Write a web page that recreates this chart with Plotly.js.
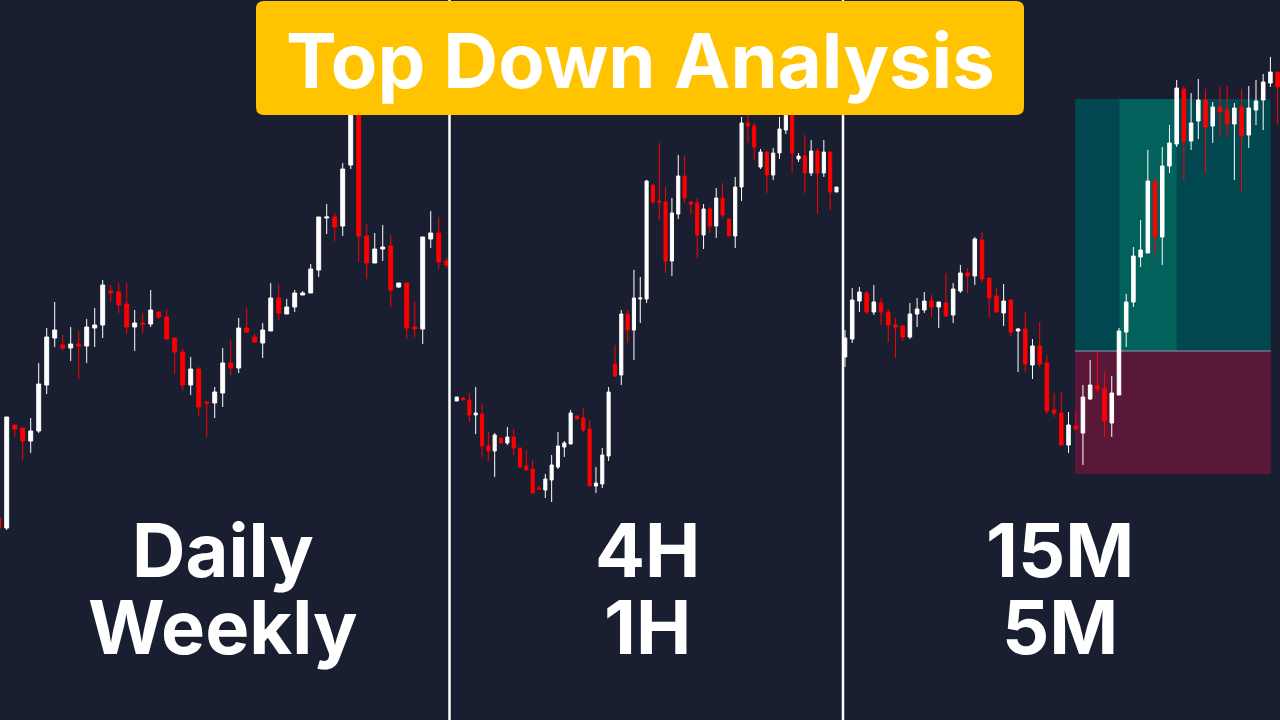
<!DOCTYPE html>
<html>
<head>
<meta charset="utf-8">
<script src="https://cdn.plot.ly/plotly-3.0.1.min.js"></script>
<style>html,body{margin:0;padding:0;background:#1a1e31;}#chart{width:1280px;height:720px;}</style>
</head>
<body>
<div id="chart"></div>
<script>
// ---------- Panel 1 : Daily / Weekly ----------
const p1Open  = [202,192,295,292,279,289,335,382,375,372,376,374,392,395,429,428,416,393,397,396,408,403,382,368,335,351,318,317,327,357,352,392,383,377,389,422,406,413,425,427,450,502,503,494,555,615,484,457,471,474,433,437,393,391,481,487,459];
const p1High  = [202,303,295,292,302,357,392,418,385,393,389,401,412,440,435,437,437,410,407,430,408,411,382,371,363,353,318,333,372,380,402,412,386,397,437,436,421,430,429,456,503,516,507,557,625,625,496,487,495,485,437,437,418,483,509,503,462];
const p1Low   = [192,190,283,260,267,287,326,373,370,359,341,357,373,382,418,407,386,369,387,393,401,381,346,330,325,304,283,302,313,345,347,387,378,362,389,400,406,408,425,427,443,486,479,484,551,458,441,457,459,413,432,381,383,376,472,451,452];
const p1Close = [192,303,291,279,289,336,383,390,372,376,374,393,395,435,427,415,393,397,396,410,403,381,368,335,351,313,317,328,357,352,392,388,378,390,422,407,413,427,427,451,503,503,493,551,615,484,457,471,473,430,437,392,391,483,487,458,455];

// ---------- Panel 2 : 4H / 1H ----------
const p2Open  = [319,322,320,305,306,274,269,282,277,283,272,254,251,232,230,240,253,273,276,304,302,291,234,236,264,356,345,406,390,421,421,535,519,518,459,506,544,518,517,485,511,494,522,501,484,533,597,594,553,568,545,567,590,608,561,564,547,569,547,568,528];
const p2High  = [323,323,327,333,316,288,287,282,293,291,272,270,260,234,246,265,288,279,310,304,312,300,253,272,333,375,410,410,450,443,540,535,577,533,522,565,564,518,522,516,513,532,537,501,543,603,607,597,571,568,572,603,612,612,567,585,580,572,580,568,533];
const p2Low   = [319,320,298,286,263,259,243,277,275,265,252,250,227,231,222,218,251,263,276,301,288,234,227,232,259,343,335,377,360,397,417,516,500,447,444,501,517,506,462,471,487,482,502,484,472,519,577,560,551,527,540,561,586,547,558,527,544,506,543,510,528];
const p2Close = [323,320,305,307,274,269,285,277,283,272,253,250,227,231,241,255,274,277,307,301,290,234,237,265,328,344,406,390,422,422,539,518,518,459,507,544,522,516,485,511,494,522,505,484,533,597,594,573,568,545,567,591,608,567,564,547,569,547,568,528,533];

// ---------- Panel 3 : 15M / 5M ----------
const p3Open  = [363,381,419,427,408,417,408,395,394,383,406,410,419,413,417,405,429,447,444,480,442,424,407,420,389,391,355,374,357,310,307,275,294,287,321,334,331,297,325,388,418,463,467,538,483,554,576,631,579,599,620,594,613,610,596,613,585,610,620,637,648];
const p3High  = [390,432,433,429,435,422,411,402,394,417,422,428,425,418,447,437,455,452,483,488,442,432,436,420,392,408,381,398,365,327,328,308,308,335,360,368,348,344,392,426,473,500,570,542,573,595,640,634,627,641,631,618,633,634,617,631,634,640,646,663,648];
const p3Low   = [353,377,408,406,405,395,378,362,379,381,393,407,403,392,403,397,427,427,435,438,402,407,394,384,348,348,341,353,306,303,275,267,291,255,320,328,283,283,325,373,413,453,467,466,455,547,573,540,570,581,547,577,583,583,540,527,572,595,590,633,596];
const p3Close = [382,420,428,408,418,408,395,393,383,406,411,419,413,418,404,431,447,444,481,441,422,408,419,388,391,356,374,356,309,307,275,295,291,323,335,331,299,327,389,418,464,470,539,483,554,577,632,579,597,620,593,613,608,596,612,584,612,619,638,648,633];

// Long-position tool on panel 3 (price levels and bar-index span)
const positionEntry  = 369;
const positionTarget = 621;
const positionStop   = 246;
const positionStart  = 32.9;
const positionEnd    = 60.05;
const highlightStart = 39.07;
const highlightEnd   = 47.0;

// Text
const chartTitle = "Top Down Analysis";
const labelsTop    = ["Daily", "4H", "15M"];
const labelsBottom = ["Weekly", "1H", "5M"];

// ---------- build ----------
const BG = "#1a1e31";
const UP = "#ffffff";
const DOWN = "#ff0000";

function idx(n, start){ return Array.from({length:n}, (_, k) => k + start); }

function candle(o, h, l, c, start, xa, ya){
  return {
    type: "candlestick",
    x: idx(o.length, start), open: o, high: h, low: l, close: c,
    xaxis: xa, yaxis: ya,
    increasing: {line: {color: UP, width: 1}, fillcolor: UP},
    decreasing: {line: {color: DOWN, width: 1}, fillcolor: DOWN},
    whiskerwidth: 0,
    hoverinfo: "skip",
    showlegend: false
  };
}

const traces = [
  candle(p1Open, p1High, p1Low, p1Close, 0, "x", "y"),
  candle(p2Open, p2High, p2Low, p2Close, 1, "x2", "y2"),
  candle(p3Open, p3High, p3Low, p3Close, 1, "x3", "y3")
];

function xa(domain, range){
  return {domain: domain, range: range, showgrid:false, zeroline:false, showticklabels:false,
          ticks:"", showline:false, fixedrange:true, rangeslider:{visible:false}};
}
function ya(anchor){
  return {domain:[0,1], range:[0,720], anchor: anchor, showgrid:false, zeroline:false,
          showticklabels:false, ticks:"", showline:false, fixedrange:true};
}

const W = 1280, H = 720;
// title box (paper coords) with rounded corners
const bx0 = 256/W, bx1 = 1024/W, by0 = 1 - 115/H, by1 = 1 - 1/H, rx = 8/W, ry = 8/H;
const boxPath = `M ${bx0+rx},${by1} L ${bx1-rx},${by1} Q ${bx1},${by1} ${bx1},${by1-ry} L ${bx1},${by0+ry} Q ${bx1},${by0} ${bx1-rx},${by0} L ${bx0+rx},${by0} Q ${bx0},${by0} ${bx0},${by0+ry} L ${bx0},${by1-ry} Q ${bx0},${by1} ${bx0+rx},${by1} Z`;

const shapes = [
  // position tool: profit zone
  {type:"rect", xref:"x3", yref:"y3", x0:positionStart, x1:positionEnd, y0:positionEntry, y1:positionTarget,
   fillcolor:"#01474f", line:{width:0}, layer:"below"},
  {type:"rect", xref:"x3", yref:"y3", x0:highlightStart, x1:highlightEnd, y0:positionEntry, y1:positionTarget,
   fillcolor:"#03615c", line:{width:0}, layer:"below"},
  // stop zone
  {type:"rect", xref:"x3", yref:"y3", x0:positionStart, x1:positionEnd, y0:positionStop, y1:positionEntry,
   fillcolor:"#5a1838", line:{width:0}, layer:"below"},
  {type:"line", xref:"x3", yref:"y3", x0:positionStart, x1:positionEnd, y0:positionEntry, y1:positionEntry,
   line:{color:"#8a9aa6", width:1}, layer:"below"},
  // panel separators
  {type:"line", xref:"paper", yref:"paper", x0:449.5/W, x1:449.5/W, y0:0, y1:1, line:{color:"#ffffff", width:2.5}},
  {type:"line", xref:"paper", yref:"paper", x0:843/W, x1:843/W, y0:0, y1:1, line:{color:"#ffffff", width:2.5}},
  // title box
  {type:"path", xref:"paper", yref:"paper", path: boxPath, fillcolor:"#ffc300", line:{width:0}}
];

const labelX = [223/W, 647/W, 1060/W];
const FONT = "Inter, 'Open Sans', sans-serif";
const annotations = [
  {xref:"paper", yref:"paper", x:0.5, y:1 - 60/H, xanchor:"center", yanchor:"middle", showarrow:false,
   text: chartTitle, font:{family:FONT, size:76, weight:700, color:"#ffffff"}}
];
labelsTop.forEach((t, k) => annotations.push({xref:"paper", yref:"paper", x:labelX[k], y:1 - 550/H,
  xanchor:"center", yanchor:"middle", showarrow:false, text:t, font:{family:FONT, size:74, weight:700, color:"#ffffff"}}));
labelsBottom.forEach((t, k) => annotations.push({xref:"paper", yref:"paper", x:labelX[k], y:1 - 626.5/H,
  xanchor:"center", yanchor:"middle", showarrow:false, text:t, font:{family:FONT, size:74, weight:700, color:"#ffffff"}}));

const layout = {
  width: W, height: H,
  margin: {l:0, r:0, t:0, b:0, pad:0},
  paper_bgcolor: BG, plot_bgcolor: BG,
  showlegend: false,
  boxgap: 0.3,
  xaxis:  xa([0, 448/W], [0.1625, 56.16]),
  xaxis2: xa([451/W, 842/W], [0.0995, 61.87]),
  xaxis3: xa([844/W, 1], [0.861, 61.33]),
  yaxis:  ya("x"),
  yaxis2: ya("x2"),
  yaxis3: ya("x3"),
  shapes: shapes,
  annotations: annotations,
  hovermode: false
};

Plotly.newPlot("chart", traces, layout, {displayModeBar:false, staticPlot:true});
</script>
</body>
</html>
